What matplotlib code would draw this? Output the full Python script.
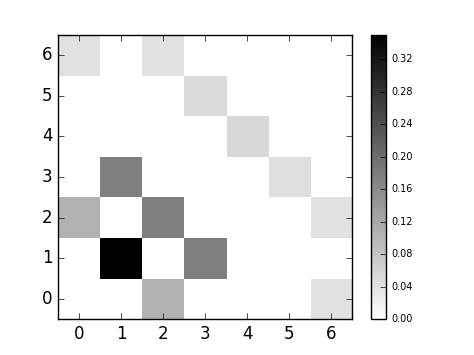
import matplotlib
matplotlib.use("Agg")
import matplotlib.pyplot as plt
import numpy as np

# matrix values, row index = y (bottom row is 0), column index = x
rows = [0, 1, 2, 3, 4, 5, 6]
cols = [0, 1, 2, 3, 4, 5, 6]
row0 = [0.0, 0.0, 0.108, 0.0, 0.0, 0.0, 0.040]
row1 = [0.0, 0.350, 0.0, 0.175, 0.0, 0.0, 0.0]
row2 = [0.108, 0.0, 0.175, 0.0, 0.0, 0.0, 0.040]
row3 = [0.0, 0.175, 0.0, 0.0, 0.0, 0.046, 0.0]
row4 = [0.0, 0.0, 0.0, 0.0, 0.056, 0.0, 0.0]
row5 = [0.0, 0.0, 0.0, 0.048, 0.0, 0.0, 0.0]
row6 = [0.042, 0.0, 0.042, 0.0, 0.0, 0.0, 0.0]
cbar_ticks = [0.00, 0.04, 0.08, 0.12, 0.16, 0.20, 0.24, 0.28, 0.32]

plt.style.use("classic")
matrix = np.array([row0, row1, row2, row3, row4, row5, row6])

fig = plt.figure(figsize=(4.74, 3.55), dpi=100)
ax = fig.add_axes([0.1224, 0.1014, 0.6203, 0.8000])
cax = fig.add_axes([0.7833, 0.1014, 0.0305, 0.8000])

im = ax.imshow(matrix, cmap="gray_r", origin="lower", interpolation="nearest",
               vmin=0.0, vmax=0.35, aspect="auto")
ax.set_xticks(cols)
ax.set_yticks(rows)
ax.tick_params(labelsize=12)

cb = fig.colorbar(im, cax=cax, ticks=cbar_ticks)
cb.ax.set_yticklabels([f"{t:.2f}" for t in cbar_ticks])
cb.ax.tick_params(labelsize=7)

fig.savefig("out.png", dpi=100)
